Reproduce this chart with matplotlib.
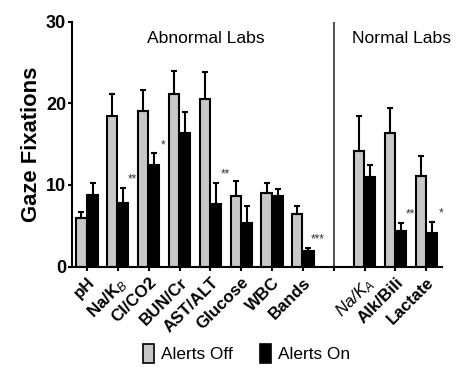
import matplotlib
matplotlib.use("Agg")
import matplotlib.pyplot as plt
import numpy as np
from matplotlib.patches import Patch

plt.rcParams['font.family'] = ['Liberation Sans', 'DejaVu Sans']
plt.rcParams['mathtext.fontset'] = 'custom'
plt.rcParams['mathtext.rm'] = 'Liberation Sans'
plt.rcParams['mathtext.it'] = 'Liberation Sans:italic'
plt.rcParams['mathtext.bf'] = 'Liberation Sans:bold'

categories = ['pH', r'Na/K$_{\mathit{B}}$', 'Cl/CO2', 'BUN/Cr', 'AST/ALT', 'Glucose', 'WBC', 'Bands',
              '', r'Na/K$_{\mathit{A}}$', 'Alk/Bili', 'Lactate']
alerts_off = [5.9, 18.4, 19.1, 21.2, 20.5, 8.6, 8.95, 6.4, np.nan, 14.1, 16.4, 11.1]
alerts_off_err = [0.8, 2.7, 2.5, 2.8, 3.3, 1.9, 1.3, 1.05, np.nan, 4.3, 3.0, 2.45]
alerts_on = [8.75, 7.8, 12.5, 16.4, 7.7, 5.35, 8.6, 1.95, np.nan, 11.0, 4.4, 4.05]
alerts_on_err = [1.5, 1.8, 1.35, 2.5, 2.55, 2.05, 0.95, 0.35, np.nan, 1.4, 0.95, 1.4]
stars = {1: '**', 2: '*', 4: '**', 7: '***', 10: '**', 11: '*'}

fig = plt.figure(figsize=(4.74, 3.77), dpi=100)
ax = fig.add_axes([0.151, 0.293, 0.781, 0.6495])

x = np.arange(len(categories))
w = 0.33
off = 0.18
ekw = dict(ecolor='black', elinewidth=1.5, capsize=2.5, capthick=1.5)
ax.bar(x - off, alerts_off, w, color='#c8c8c8', edgecolor='black', linewidth=1.5,
       yerr=[np.zeros(len(x)), alerts_off_err], error_kw=ekw, label='Alerts Off')
ax.bar(x + off, alerts_on, w, color='black', edgecolor='black', linewidth=1.5,
       yerr=[np.zeros(len(x)), alerts_on_err], error_kw=ekw, label='Alerts On')

for i, s in stars.items():
    top = alerts_on[i] + alerts_on_err[i]
    ax.text(x[i] + off + 0.3, top + 0.3, s, ha='center', va='bottom', fontsize=8.5, color='#333333')

ax.axvline(8, ymin=0, ymax=1, color='#333333', linewidth=1.2)
ax.text(3.85, 28.0, 'Abnormal Labs', ha='center', va='center', fontsize=12.6)
ax.text(10.2, 28.0, 'Normal Labs', ha='center', va='center', fontsize=12.6)

ax.set_xlim(-0.5, 11.5)
ax.set_ylim(0, 30)
ax.set_yticks([0, 10, 20, 30])
ax.set_yticklabels(['0', '10', '20', '30'], fontweight='bold', fontsize=13)
ax.set_xticks(x)
ax.set_xticklabels(categories, rotation=45, ha='right', rotation_mode='anchor',
                   fontweight='bold', fontsize=12.2)
for i, lab in enumerate(ax.get_xticklabels()):
    if i == 9:
        lab.set_fontweight('normal')
        lab.set_fontstyle('italic')
ax.tick_params(axis='both', direction='out', length=3, width=1.5, pad=1)
ax.tick_params(axis='x', pad=3)
for s in ['top', 'right']:
    ax.spines[s].set_visible(False)
for s in ['left', 'bottom']:
    ax.spines[s].set_linewidth(1.5)
ax.set_ylabel('Gaze Fixations', fontweight='bold', fontsize=15.8, labelpad=3)

handles = [Patch(facecolor='#c8c8c8', edgecolor='black', linewidth=1.2),
           Patch(facecolor='black', edgecolor='black', linewidth=1.2)]
fig.legend(handles, ['Alerts Off', 'Alerts On'], loc='center', bbox_to_anchor=(0.52, 0.063),
           ncol=2, frameon=False, fontsize=12.4, handlelength=0.65, handleheight=1.3,
           handletextpad=0.4, columnspacing=1.6)

fig.savefig('out.png', dpi=100)
